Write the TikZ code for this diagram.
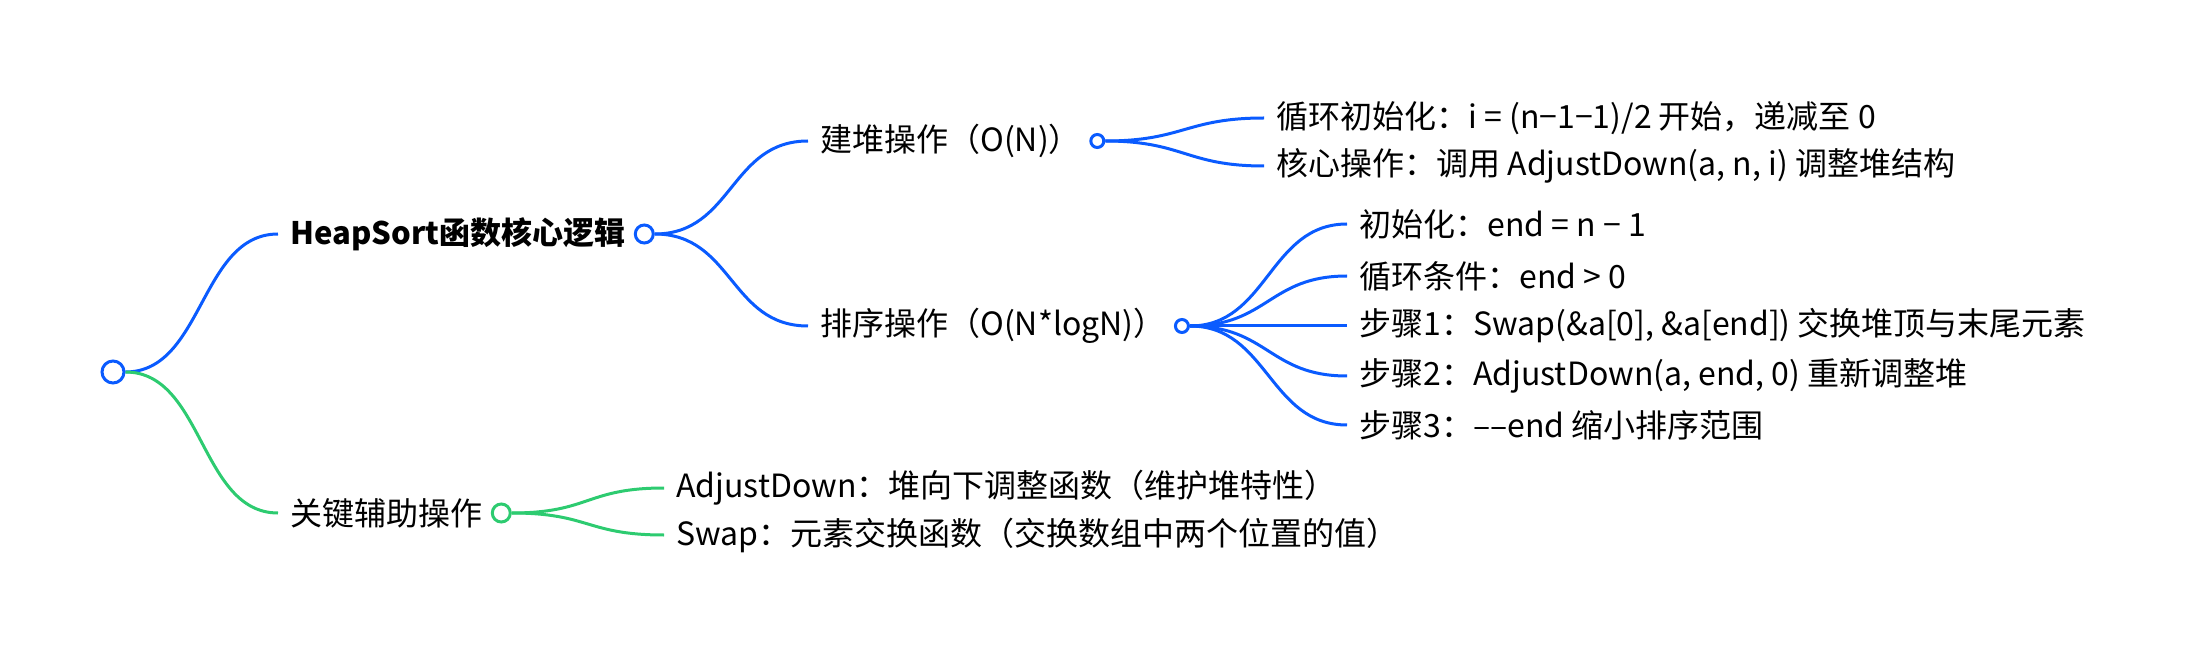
\documentclass[tikz,border=0pt]{standalone}
\usepackage{fontspec}
\setmainfont{Noto Sans CJK SC}
\usetikzlibrary{positioning}
\definecolor{mmblue}{HTML}{0A5BFF}
\definecolor{mmgreen}{HTML}{2DCB70}
\tikzset{
  font=\fontsize{16}{19}\selectfont,
  topic/.style={inner sep=0pt,anchor=west},
  knob/.style={circle,draw,fill=white,line width=1.5pt,inner sep=0pt,minimum size=#1},
  knob/.default=6.5pt,
  link/.style={line width=1.5pt,to path={.. controls +(78,0) and +(-78,0) .. (\tikztotarget)}},
}

\begin{document}
\begin{tikzpicture}[x=0.5pt,y=-0.5pt]
  \useasboundingbox (0,0) rectangle (2186,652);

  % root
  \node[knob=11pt,draw=mmblue] (root) at (113,372) {};

  % ===== level 1 =====
  \coordinate (hs-in) at (278,234);
  \coordinate (aux-in) at (278,513);
  \node[topic,font=\fontsize{15.5}{18}\selectfont\bfseries,right=6pt of hs-in] (hs) {HeapSort函数核心逻辑};
  \node[knob=9pt,draw=mmblue,right=4pt of hs] (hs-k) {};
  \node[topic,right=6pt of aux-in] (aux) {关键辅助操作};
  \node[knob=9pt,draw=mmgreen,right=4pt of aux] (aux-k) {};
  \draw[link,mmblue] (root.east) to (hs-in);
  \draw[link,mmgreen] (root.east) to (aux-in);

  % ===== level 2 =====
  \coordinate (build-in) at (808,141);
  \coordinate (sort-in) at (808,326);
  \node[topic,right=6pt of build-in] (build) {建堆操作（O(N)）};
  \node[knob,draw=mmblue,right=4pt of build] (build-k) {};
  \node[topic,right=6pt of sort-in] (sort) {排序操作（O(N*logN)）};
  \node[knob,draw=mmblue,right=4pt of sort] (sort-k) {};
  \draw[link,mmblue] (hs-k.east) to (build-in);
  \draw[link,mmblue] (hs-k.east) to (sort-in);

  % helpers
  \foreach \y/\txt [count=\i] in {488/{AdjustDown：堆向下调整函数（维护堆特性）},
                                  535/{Swap：元素交换函数（交换数组中两个位置的值）}}{
    \coordinate (aux-in-\i) at (664,\y);
    \node[topic,right=6pt of aux-in-\i] (aux-\i) {\txt};
    \draw[link,mmgreen] (aux-k.east) to (aux-in-\i);
  }

  % ===== level 3 =====
  \foreach \y/\txt [count=\i] in {118/{循环初始化：i = (n−1−1)/2 开始，递减至 0},
                                  166/{核心操作：调用 AdjustDown(a, n, i) 调整堆结构}}{
    \coordinate (build-in-\i) at (1264,\y);
    \node[topic,right=6pt of build-in-\i] (build-\i) {\txt};
    \draw[link,mmblue] (build-k.east) to (build-in-\i);
  }
  \foreach \y/\txt [count=\i] in {224/{初始化：end = n − 1},
                                  276/{循环条件：end > 0},
                                  326/{步骤1：Swap(\&a[0], \&a[end]) 交换堆顶与末尾元素},
                                  376/{步骤2：AdjustDown(a, end, 0) 重新调整堆},
                                  425/{步骤3：––end 缩小排序范围}}{
    \coordinate (sort-in-\i) at (1347,\y);
    \node[topic,right=6pt of sort-in-\i] (sort-\i) {\txt};
    \draw[link,mmblue] (sort-k.east) to (sort-in-\i);
  }
\end{tikzpicture}
\end{document}
